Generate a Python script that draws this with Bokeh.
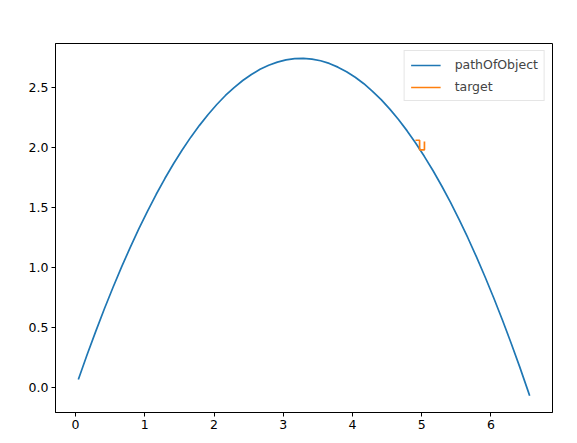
from bokeh.plotting import figure
from bokeh.embed import file_html
from bokeh.resources import INLINE
from bokeh.models import FixedTicker, PrintfTickFormatter, Range1d

# Path of object
path_x = [0.04, 0.165, 0.29, 0.415, 0.54, 0.665, 0.79, 0.915, 1.04, 1.165, 1.29, 1.415, 1.54, 1.665,
          1.79, 1.915, 2.04, 2.165, 2.29, 2.415, 2.54, 2.665, 2.79, 2.915, 3.04, 3.165, 3.29, 3.415,
          3.54, 3.665, 3.79, 3.915, 4.04, 4.165, 4.29, 4.415, 4.54, 4.665, 4.79, 4.915, 5.04, 5.165,
          5.29, 5.415, 5.54, 5.665, 5.79, 5.915, 6.04, 6.165, 6.29, 6.415, 6.54, 6.56]
path_y = [0.067, 0.271, 0.466, 0.654, 0.833, 1.005, 1.168, 1.323, 1.470, 1.610, 1.741, 1.864, 1.979, 2.086,
          2.184, 2.275, 2.358, 2.433, 2.499, 2.558, 2.608, 2.651, 2.685, 2.711, 2.729, 2.740, 2.742, 2.736,
          2.722, 2.700, 2.669, 2.631, 2.585, 2.531, 2.468, 2.398, 2.319, 2.233, 2.138, 2.035, 1.924, 1.806,
          1.679, 1.544, 1.401, 1.250, 1.090, 0.923, 0.748, 0.565, 0.373, 0.174, -0.034, -0.068]

# Target outline
target_x = [4.91, 4.97, 4.97, 5.04, 5.04]
target_y = [2.06, 2.06, 1.98, 1.98, 2.05]

x_ticks = [0, 1, 2, 3, 4, 5, 6]
y_ticks = [0.0, 0.5, 1.0, 1.5, 2.0, 2.5]

p = figure(width=569, height=435, output_backend="svg", toolbar_location=None,
           x_range=Range1d(-0.29, 6.89), y_range=Range1d(-0.208, 2.866),
           min_border_left=55, min_border_right=17, min_border_top=43, min_border_bottom=23)

p.line(path_x, path_y, line_color="#1f77b4", line_width=1.7, legend_label="pathOfObject")
p.line(target_x, target_y, line_color="#ff7f0e", line_width=1.7, legend_label="target")

p.xgrid.visible = False
p.ygrid.visible = False
p.outline_line_color = "black"
p.outline_line_width = 1
p.outline_line_alpha = 1
p.background_fill_color = "white"
p.border_fill_color = "white"

for ax in (p.xaxis[0], p.yaxis[0]):
    ax.axis_line_color = "black"
    ax.major_tick_line_color = "black"
    ax.major_tick_in = 0
    ax.major_tick_out = 4
    ax.minor_tick_line_color = None
    ax.major_label_text_font = "DejaVu Sans"
    ax.major_label_text_font_size = "12.5px"
    ax.major_label_text_color = "black"
    ax.major_label_standoff = 3

p.xaxis[0].ticker = FixedTicker(ticks=x_ticks)
p.yaxis[0].ticker = FixedTicker(ticks=y_ticks)
p.yaxis[0].formatter = PrintfTickFormatter(format="%.1f")
p.xaxis[0].formatter = PrintfTickFormatter(format="%d")

lg = p.legend[0]
lg.location = "top_right"
lg.margin = 7
lg.padding = 6
lg.spacing = 7
lg.label_text_font = "DejaVu Sans"
lg.label_text_font_size = "12.5px"
lg.label_standoff = 14
lg.glyph_width = 30
lg.glyph_height = 14
lg.label_height = 14
lg.border_line_color = "#cccccc"
lg.border_line_width = 1
lg.background_fill_alpha = 0.8

open("out.html", "w").write(file_html(p, INLINE))
